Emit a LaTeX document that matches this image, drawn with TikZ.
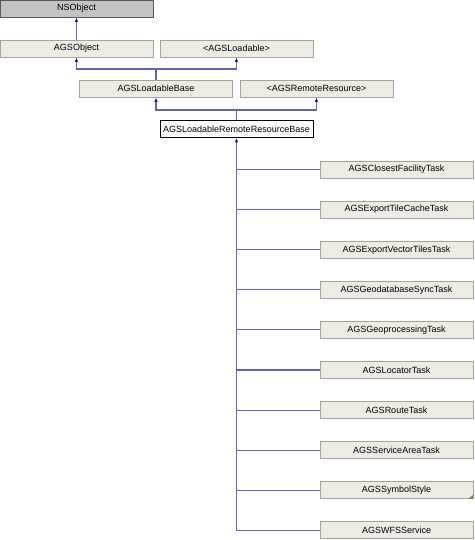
\documentclass[tikz,border=0pt]{standalone}
\usepackage{fontspec}
\setmainfont{Liberation Sans}
\usetikzlibrary{arrows.meta}
\definecolor{boxfill}{HTML}{EEEAE4}
\definecolor{boxline}{HTML}{A8A29A}
\definecolor{rootfill}{HTML}{C3C3C3}
\definecolor{rootline}{HTML}{5A5A5A}
\definecolor{edgecol}{HTML}{6464B4}
\definecolor{tipcol}{HTML}{191970}
\definecolor{markcol}{HTML}{8C7A5A}
\tikzset{
  cls/.style={draw=boxline, fill=boxfill, line width=0.9pt, minimum width=153pt, minimum height=17pt, inner sep=0pt, font=\fontsize{9}{10}\selectfont, text=black},
  rootcls/.style={cls, fill=rootfill, draw=rootline},
  curcls/.style={cls, fill=white, draw=black},
  edge/.style={draw=edgecol, line width=1.1pt},
  inh/.style={edge, -{Latex[length=4.5pt,width=3.5pt,color=tipcol]}},
}
\begin{document}
\begin{tikzpicture}[x=1pt,y=-1pt]
\useasboundingbox (0,0) rectangle (474,540);
\node[rootcls] (ns) at (76.5,8.5) {NSObject};
\node[cls] (ago) at (76.5,48.5) {AGSObject};
\node[cls] (lda) at (236.5,48.5) {<AGSLoadable>};
\node[cls] (ldb) at (156,88.5) {AGSLoadableBase};
\node[cls] (rrs) at (316.5,88.5) {<AGSRemoteResource>};
\node[curcls] (lrr) at (236.5,129) {AGSLoadableRemoteResourceBase};
\foreach \n/\t [count=\i from 0] in {c1/AGSClosestFacilityTask, c2/AGSExportTileCacheTask, c3/AGSExportVectorTilesTask, c4/AGSGeodatabaseSyncTask, c5/AGSGeoprocessingTask, c6/AGSLocatorTask, c7/AGSRouteTask, c8/AGSServiceAreaTask, c9/AGSSymbolStyle, c10/AGSWFSService}{
  \node[cls] (\n) at (396.5,{169.5+40.1*\i}) {\t};
}
% corner mark on AGSSymbolStyle
\fill[markcol] ([xshift=-0.4pt,yshift=0.4pt]c9.south east) -- ++(-5,0) -- ++(5,-4) -- cycle;
% edges
\draw[inh] (ago.north) -- (ns.south);
\coordinate (j1) at (156,69);
\draw[edge] (ldb.north) -- (j1);
\draw[inh] (j1) -| (ago.south);
\draw[inh] (j1) -| (lda.south);
\coordinate (j2) at (236.5,110);
\draw[edge] (lrr.north) -- (j2);
\draw[inh] (j2) -| (ldb.south);
\draw[inh] (j2) -| (rrs.south);
\coordinate (bot) at (236.5,531);
\draw[inh] (bot) -- (lrr.south);
\foreach \n in {c1,c2,c3,c4,c5,c6,c7,c8,c9,c10}{
  \draw[edge] (\n.west) -- (bot |- \n.west);
}
\end{tikzpicture}
\end{document}
